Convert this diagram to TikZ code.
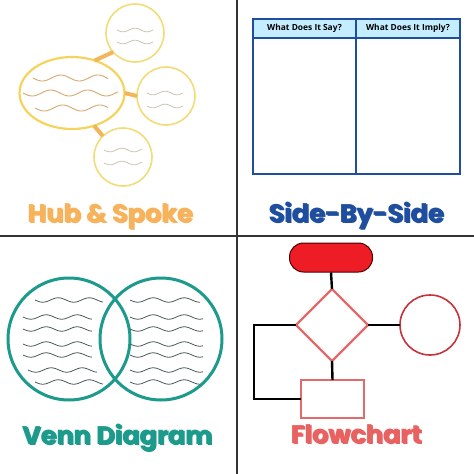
\documentclass[tikz,border=0pt]{standalone}
\usepackage{fontspec}
\newfontfamily\titlefont{Poppins}[BoldFont={* Bold}]
\newfontfamily\headfont{Open Sans}[BoldFont={* Bold}]
\usetikzlibrary{shapes.geometric}
\definecolor{hubline}{HTML}{F5D45E}
\definecolor{hubcirc}{HTML}{F2DC78}
\definecolor{spoke}{HTML}{F4B45A}
\definecolor{hubwave}{HTML}{D6AA6E}
\definecolor{circwave}{HTML}{CFC4B4}
\definecolor{huborange}{HTML}{F6B35C}
\definecolor{sbblue}{HTML}{1F4E9E}
\definecolor{sbhead}{HTML}{C4EEFF}
\definecolor{teal}{HTML}{1C9A8C}
\definecolor{vennwave}{HTML}{4E5C5C}
\definecolor{flowred}{HTML}{EE1C24}
\definecolor{salmon}{HTML}{E26A6A}
\definecolor{darkred}{HTML}{C8323C}
\definecolor{flowtitle}{HTML}{E86262}
\definecolor{shadowgray}{HTML}{BDBDBD}
\newcommand\wavy[6]{% style, x0, x1, y, wavelength, amplitude
  \draw[#1] plot[domain=#2:#3, samples=50, smooth] (\x, {#4 + #6*sin((\x-#2)/#5*360)});}
\newcommand\shadowtitle[4]{% name, x, y, color+text
  \node[titlestyle, text=shadowgray] (#1s) at (#2+1.5, #3+1.5) {#4};
  \node[titlestyle] (#1) at (#2, #3) {#4};}
\begin{document}
\begin{tikzpicture}[x=1pt, y=-1pt,
  titlestyle/.style={font=\titlefont\bfseries\fontsize{25.5}{28}\selectfont, inner sep=0pt, anchor=base},
  hubnode/.style={draw=hubline, line width=2.2pt, ellipse, inner sep=0pt, outer sep=0pt},
  satnode/.style={draw=hubcirc, line width=1.6pt, circle, inner sep=0pt, outer sep=0pt, minimum size=58pt},
  spokeline/.style={draw=spoke, line width=4pt},
  hwave/.style={draw=hubwave, line width=0.9pt},
  cwave/.style={draw=circwave, line width=0.8pt},
  vwave/.style={draw=vennwave, line width=0.8pt},
  vcirc/.style={draw=teal, line width=3pt, circle, inner sep=0pt, minimum size=122pt},
  flowline/.style={draw=black, line width=2.4pt},
  headtext/.style={font=\headfont\bfseries\fontsize{8.4}{10}\selectfont, inner sep=0pt}
]
\useasboundingbox (0,0) rectangle (474,474);
\fill[white] (0,0) rectangle (474,474);
% dividers
\draw[line width=1.3pt, black!80] (237,0) -- (237,474);
\draw[line width=1.3pt, black!80] (0,236) -- (474,236);

% ---------------- Hub & Spoke
\node[hubnode, minimum width=105pt, minimum height=72pt] (hub) at (72,93) {};
\node[satnode] (top) at (135,33) {};
\node[satnode] (right) at (166,96) {};
\node[satnode] (bottom) at (123,157) {};
\draw[spokeline] (hub.55) -- (top.221);
\draw[spokeline] (hub.east) -- (right.west);
\draw[spokeline] (hub.-56) -- (bottom.134);
\wavy{hwave}{33}{108}{78}{37}{3}
\wavy{hwave}{23}{118}{93}{37}{3}
\wavy{hwave}{35}{108}{108}{37}{3}
\wavy{cwave}{117}{153}{30}{24}{1.8}
\wavy{cwave}{117}{153}{42}{24}{1.8}
\wavy{cwave}{147}{183}{93}{24}{1.8}
\wavy{cwave}{147}{183}{106}{24}{1.8}
\wavy{cwave}{104}{142}{150}{24}{1.8}
\wavy{cwave}{104}{142}{163}{24}{1.8}
\shadowtitle{hubtitle}{110}{222}{\color{huborange}Hub \& Spoke}

% ---------------- Side-By-Side
\fill[sbhead] (253,19) rectangle (460,38);
\draw[sbblue, line width=2.2pt] (253,19) rectangle (460,174);
\draw[sbblue, line width=2.2pt] (253,38) -- (460,38);
\draw[sbblue, line width=2.2pt] (356,19) -- (356,174);
\node[headtext] (say) at (304.5,28.5) {What Does It Say?};
\node[headtext] (imply) at (408,28.5) {What Does It Imply?};
\shadowtitle{sbtitle}{356}{222}{\color{sbblue}Side-By-Side}

% ---------------- Venn Diagram
\node[vcirc] (vl) at (69,339) {};
\node[vcirc] (vr) at (161,339) {};
\foreach \y/\a/\b in {300/35/103, 317/23/92, 329/23/92, 344/23/92, 355/23/92, 370/28/97, 382/35/103}{
  \wavy{vwave}{\a}{\b}{\y}{31}{2.2}
}
\foreach \y/\a/\b in {300/130/200, 317/130/203, 329/130/203, 344/130/203, 355/130/203, 370/130/203, 382/130/200}{
  \wavy{vwave}{\a}{\b}{\y}{31}{2.2}
}
\shadowtitle{venntitle}{117}{444}{\color{teal}Venn Diagram}

% ---------------- Flowchart
\node[draw=black!70!red, fill=flowred, line width=1pt, rounded corners=14pt,
      minimum width=83pt, minimum height=29pt, inner sep=0pt] (term) at (331,257.5) {};
\node[diamond, draw=salmon, line width=2.2pt, minimum width=72pt, minimum height=72pt,
      inner sep=0pt, outer sep=0pt] (dia) at (332,325) {};
\node[circle, draw=darkred, line width=1.6pt, minimum size=60pt, inner sep=0pt, outer sep=0pt] (fc) at (430,325) {};
\node[draw=salmon, line width=2.2pt, minimum width=63pt, minimum height=38pt, inner sep=0pt, outer sep=0pt] (box) at (332.5,399) {};
\coordinate (loop) at (254,325);
\draw[flowline] (term.south) -- (dia.north);
\draw[flowline] (dia.east) -- (fc.west);
\draw[flowline] (dia.south) -- (box.north);
\draw[flowline] (dia.west) -- (loop) |- (box.west);
\shadowtitle{flowtitle}{356}{443}{\color{flowtitle}Flowchart}
\end{tikzpicture}
\end{document}
